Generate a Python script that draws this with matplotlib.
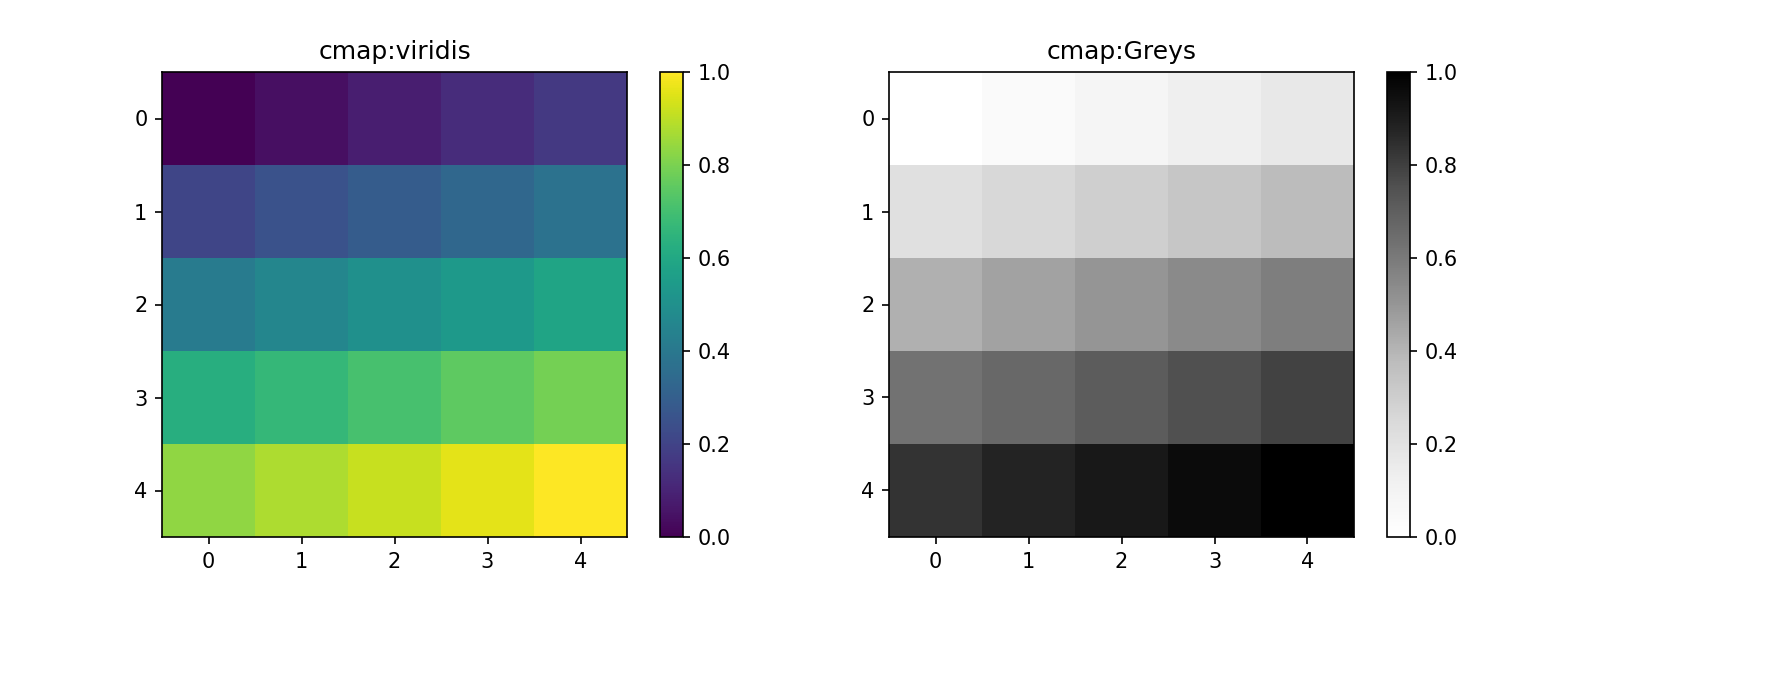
import numpy as np
import matplotlib
matplotlib.use("Agg")
import matplotlib.pyplot as plt

# cell values, row by row (0 .. 1 in 25 steps)
row0 = [0.000, 0.042, 0.083, 0.125, 0.167]
row1 = [0.208, 0.250, 0.292, 0.333, 0.375]
row2 = [0.417, 0.458, 0.500, 0.542, 0.583]
row3 = [0.625, 0.667, 0.708, 0.750, 0.792]
row4 = [0.833, 0.875, 0.917, 0.958, 1.000]
cmaps = ["viridis", "Greys"]

data = np.array([row0, row1, row2, row3, row4])

fig = plt.figure(figsize=(1790 / 150, 688 / 150), dpi=150)
W, H = 1790, 688
ax_left = [162, 889]
cb_left = [660, 1387]
for i, cmap in enumerate(cmaps):
    ax = fig.add_axes([ax_left[i] / W, (H - 537) / H, 465 / W, 465 / H])
    im = ax.imshow(data, cmap=cmap, vmin=0, vmax=1)
    ax.set_title(f"cmap:{cmap}")
    ax.set_xticks(range(5))
    ax.set_yticks(range(5))
    cax = fig.add_axes([cb_left[i] / W, (H - 537) / H, 23 / W, 465 / H])
    fig.colorbar(im, cax=cax)

fig.savefig("out.png", dpi=150)
